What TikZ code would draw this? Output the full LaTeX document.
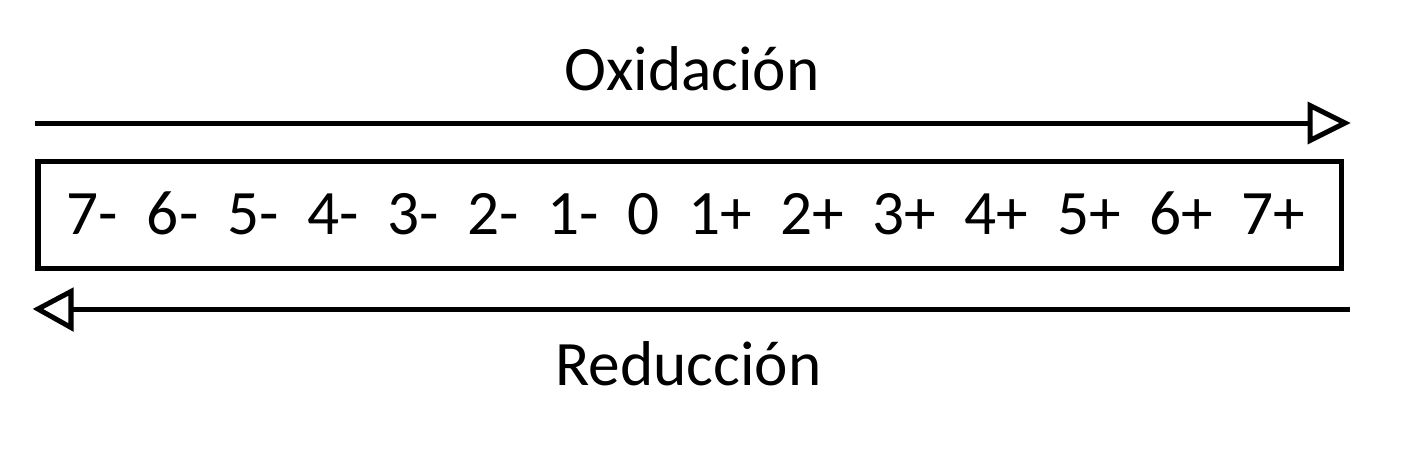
\documentclass[tikz,border=0pt]{standalone}
\usepackage{fontspec}
\setmainfont{Carlito}
\begin{document}
\begin{tikzpicture}[x=0.01cm,y=-0.01cm,
  stroke/.style={line width=0.05cm, line join=miter},
  head/.style={line width=0.05cm, line join=miter},
  label/.style={font=\fontsize{18}{20}\selectfont, inner sep=0pt, anchor=base}]
\useasboundingbox (0,0) rectangle (1420,448);
% box
\draw[stroke] (38,161) rectangle (1341,268);
\node[label] (nums) at (686,234) {7-~~6-~~5-~~4-~~3-~~2-~~1-~~0~~1+~~2+~~3+~~4+~~5+~~6+~~7+};
% labels
\node[label] (ox) at (692,90) {Oxidación};
\node[label] (red) at (688.5,385) {Reducción};
% top arrow
\coordinate (ta) at (35,123);
\coordinate (tb) at (1310,123);
\coordinate (tt) at (1345,123);
\coordinate (tu) at (1310,105.5);
\coordinate (td) at (1310,140.5);
\draw[stroke] (ta) -- (tb);
\draw[head] (tt) -- (tu) -- (td) -- cycle;
% bottom arrow
\coordinate (ba) at (1350,309);
\coordinate (bb) at (71,309);
\coordinate (bt) at (38,309);
\coordinate (bu) at (71,291.5);
\coordinate (bd) at (71,327.5);
\draw[stroke] (ba) -- (bb);
\draw[head] (bt) -- (bu) -- (bd) -- cycle;
\end{tikzpicture}
\end{document}
